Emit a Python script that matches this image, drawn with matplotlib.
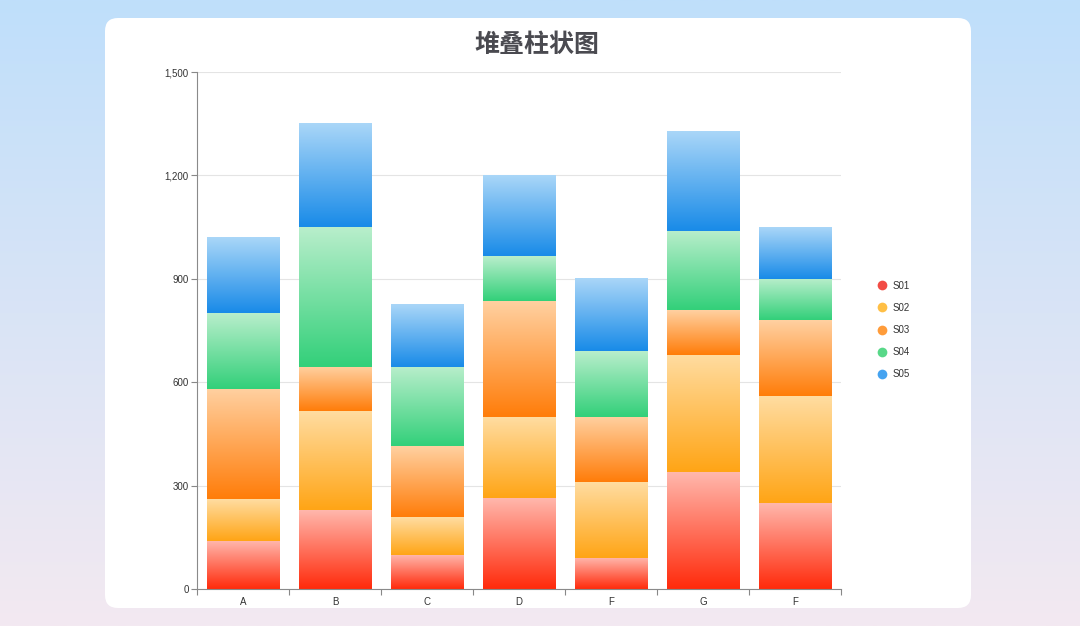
import numpy as np
import matplotlib
matplotlib.use("Agg")
import matplotlib.pyplot as plt
from matplotlib.colors import to_rgba
from matplotlib.lines import Line2D
from matplotlib.patches import FancyBboxPatch
from matplotlib.ticker import FuncFormatter

plt.rcParams['font.family'] = ['Liberation Sans', 'Noto Sans CJK SC', 'DejaVu Sans']

# data
categories = ['A', 'B', 'C', 'D', 'F', 'G', 'F']
series = ['S01', 'S02', 'S03', 'S04', 'S05']
s01 = [140, 230, 100, 265, 90, 340, 250]
s02 = [120, 285, 110, 235, 220, 340, 310]
s03 = [320, 130, 205, 335, 190, 130, 220]
s04 = [220, 405, 230, 130, 190, 230, 120]
s05 = [220, 300, 180, 235, 210, 290, 150]
values = [s01, s02, s03, s04, s05]

# (top colour, bottom colour) of each series gradient
grad = [('#ffb8ad', '#ff2b0c'),
        ('#ffdca0', '#ffa516'),
        ('#ffd0a0', '#ff7d0a'),
        ('#b8eecb', '#33d07a'),
        ('#a9d6f8', '#198be8')]
legend_cols = ['#f24c45', '#ffbf45', '#ff9c3a', '#58d888', '#45a3f0']

W, H = 1080, 626
fig = plt.figure(figsize=(W / 100, H / 100), dpi=100)

# page background gradient + white card
bg = fig.add_axes([0, 0, 1, 1])
bg.set_axis_off()
top_c = np.array(to_rgba('#bfdffb'))
bot_c = np.array(to_rgba('#f3e9f1'))
t = np.linspace(0, 1, 256)[:, None, None]
bg.imshow(top_c * (1 - t) + bot_c * t, aspect='auto', extent=[0, 1, 0, 1], origin='upper')
bg.set_xlim(0, 1)
bg.set_ylim(0, 1)
card = FancyBboxPatch((105 / W, 1 - 608 / H), 866 / W, 590 / H,
                      boxstyle='round,pad=0,rounding_size=0.012',
                      transform=fig.transFigure, facecolor='white', edgecolor='none',
                      mutation_aspect=W / H, zorder=5)
bg.add_patch(card)

fig.text(537 / W, 1 - 45 / H, '堆叠柱状图', ha='center', va='center',
         fontsize=18, fontweight='heavy', color='#4a4a50', family=['Noto Sans CJK SC'])

ax = fig.add_axes([197 / W, 1 - 589 / H, 644 / W, 517 / H])
ax.set_facecolor('none')
x = np.arange(len(categories))
width = 0.79
bottom = np.zeros(len(categories))
for i, vals in enumerate(values):
    bars = ax.bar(x, vals, width, bottom=bottom, color='none', edgecolor='none', zorder=2)
    c0 = np.array(to_rgba(grad[i][1]))
    c1 = np.array(to_rgba(grad[i][0]))
    g = np.linspace(0, 1, 64)[:, None, None]
    img = c0 * (1 - g) + c1 * g
    for b in bars:
        ax.imshow(img, aspect='auto', origin='lower', interpolation='bilinear',
                  extent=[b.get_x(), b.get_x() + b.get_width(), b.get_y(), b.get_y() + b.get_height()],
                  zorder=2)
    bottom += np.array(vals)

ax.set_xlim(-0.5, len(categories) - 0.5)
ax.set_ylim(0, 1500)
ax.set_yticks(np.arange(0, 1501, 300))
ax.yaxis.set_major_formatter(FuncFormatter(lambda v, p: f'{int(v):,}'))
ax.set_xticks(x)
ax.set_xticklabels(categories)
ax.set_xticks(np.arange(-0.5, len(categories)), minor=True)
ax.tick_params(axis='x', which='major', length=0, pad=6, labelsize=7, labelcolor='#333333')
ax.tick_params(axis='x', which='minor', length=4, color='#888888', width=0.8)
ax.tick_params(axis='y', length=4, color='#888888', width=0.8, pad=2, labelsize=7, labelcolor='#333333')
ax.grid(axis='y', color='#e4e4e4', linewidth=0.8, zorder=0)
ax.set_axisbelow(True)
for s in ['top', 'right']:
    ax.spines[s].set_visible(False)
for s in ['left', 'bottom']:
    ax.spines[s].set_color('#8a8a8a')
    ax.spines[s].set_linewidth(0.8)

handles = [Line2D([], [], marker='o', linestyle='none', markersize=7,
                  markerfacecolor=c, markeredgecolor='none') for c in legend_cols]
fig.legend(handles, series, loc='center left', bbox_to_anchor=(868 / W, 1 - 330 / H),
           frameon=False, fontsize=7, labelspacing=1.25, handlelength=1.0,
           handletextpad=0.6, labelcolor='#333333')

fig.savefig('out.png', dpi=100)
